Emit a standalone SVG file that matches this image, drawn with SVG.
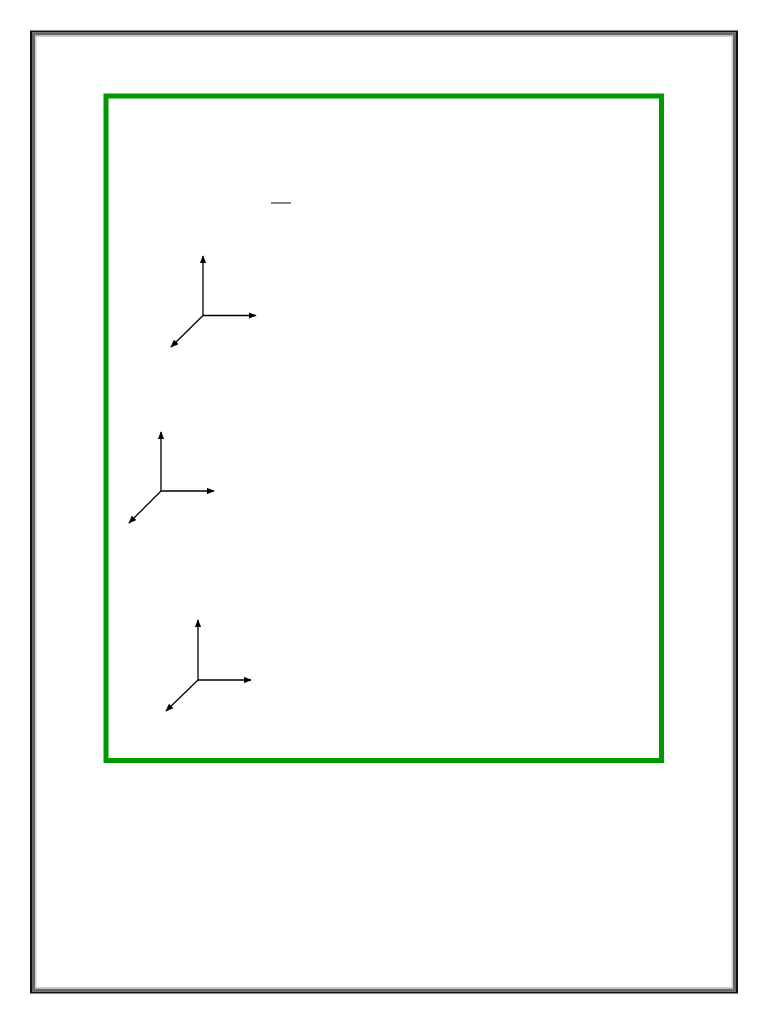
<svg xmlns="http://www.w3.org/2000/svg" width="768" height="1024" viewBox="0 0 768 1024">
<defs>
<style>
.ax{stroke:#000;stroke-width:1.3;fill:none;marker-end:url(#ah)}
</style>
<marker id="ah" viewBox="0 0 10 8" refX="9" refY="4" markerWidth="8" markerHeight="6.4" markerUnits="userSpaceOnUse" orient="auto"><path d="M0,0 L10,4 L0,8 Z" fill="#000"/></marker>
</defs>
<rect width="768" height="1024" fill="#fff"/>
<g id="frame">
<rect x="31" y="31.5" width="706" height="961" fill="none" stroke="#111" stroke-width="2"/>
<rect x="33.5" y="34" width="701" height="956" fill="none" stroke="#666" stroke-width="3"/>
<rect x="35.8" y="36.3" width="696.4" height="951.4" fill="none" stroke="#ccc" stroke-width="1.5"/>
</g>
<g id="box">
<rect x="106" y="96" width="555.5" height="664.5" fill="none" stroke="#009900" stroke-width="5"/>
</g>
<g id="bar"><line x1="271" y1="203" x2="291" y2="203" stroke="#333" stroke-width="1.2"/></g>
<g id="axes1">
<line class="ax" x1="203" y1="315.5" x2="203" y2="256"/>
<line class="ax" x1="203" y1="315.5" x2="256" y2="315.5"/>
<line class="ax" x1="203" y1="315.5" x2="171" y2="347"/>
</g>
<g id="axes2">
<line class="ax" x1="161" y1="491" x2="161" y2="432"/>
<line class="ax" x1="161" y1="491" x2="214" y2="491"/>
<line class="ax" x1="161" y1="491" x2="129" y2="523"/>
</g>
<g id="axes3">
<line class="ax" x1="198" y1="680" x2="198" y2="620"/>
<line class="ax" x1="198" y1="680" x2="251" y2="680"/>
<line class="ax" x1="198" y1="680" x2="166" y2="711"/>
</g>
</svg>
